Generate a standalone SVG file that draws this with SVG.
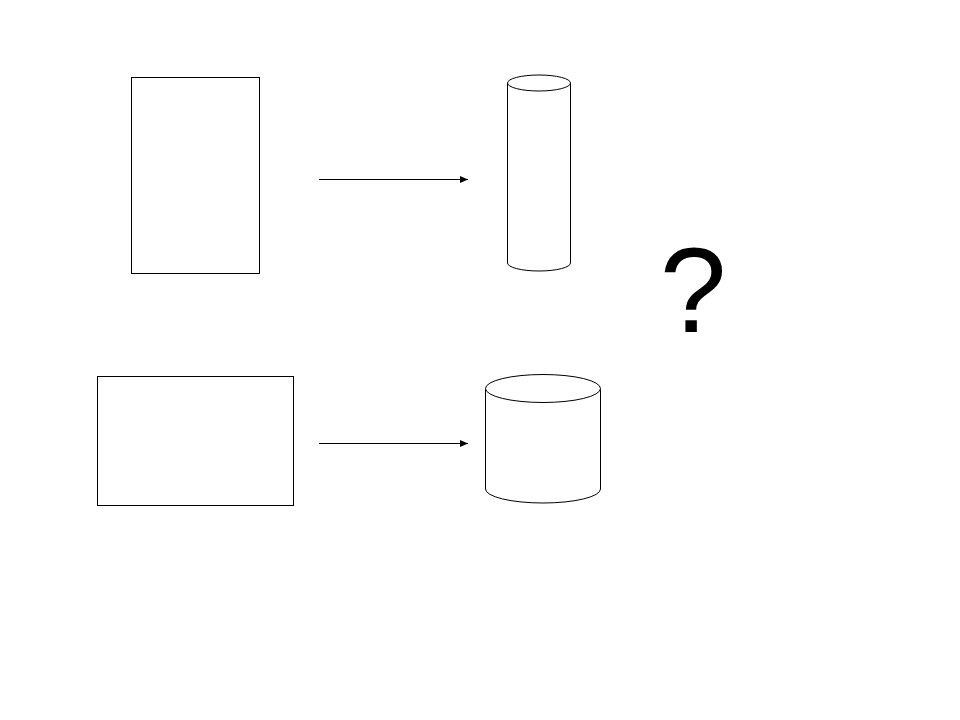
<svg xmlns="http://www.w3.org/2000/svg" width="960" height="720" viewBox="0 0 960 720">
<style>
.s{fill:#fff;stroke:#000;stroke-width:1}
.c{fill:none;stroke:#000;stroke-width:1}
.q{font-family:"Liberation Sans",Arial,sans-serif;font-size:120px;fill:#000}
</style>
<defs>
<marker id="ah" markerWidth="10" markerHeight="8" refX="8" refY="4" orient="auto" markerUnits="userSpaceOnUse">
<path d="M0,0.5 L8,4 L0,7.5 Z" fill="#000"/>
</marker>
</defs>
<rect width="960" height="720" fill="#fff"/>
<g id="rect-tall"><rect class="s" x="131.5" y="77.5" width="128" height="196"/></g>
<g id="cyl-tall">
<path class="s" d="M507.5,83 L507.5,263 A31.5,8 0 0 0 570.5,263 L570.5,83"/>
<ellipse class="s" cx="539" cy="83" rx="31.5" ry="8"/>
</g>
<g id="rect-wide"><rect class="s" x="97.5" y="376.5" width="196" height="129"/></g>
<g id="cyl-wide">
<path class="s" d="M485.5,388.5 L485.5,489 A57.5,14 0 0 0 600.5,489 L600.5,388.5"/>
<ellipse class="s" cx="543" cy="388.5" rx="57.5" ry="14"/>
</g>
<g id="question"><text class="q" x="693" y="332" text-anchor="middle">?</text></g>
<g id="connectors">
<line class="c" x1="319" y1="179.5" x2="468" y2="179.5" marker-end="url(#ah)"/>
<line class="c" x1="319" y1="443.5" x2="468" y2="443.5" marker-end="url(#ah)"/>
</g>
</svg>
